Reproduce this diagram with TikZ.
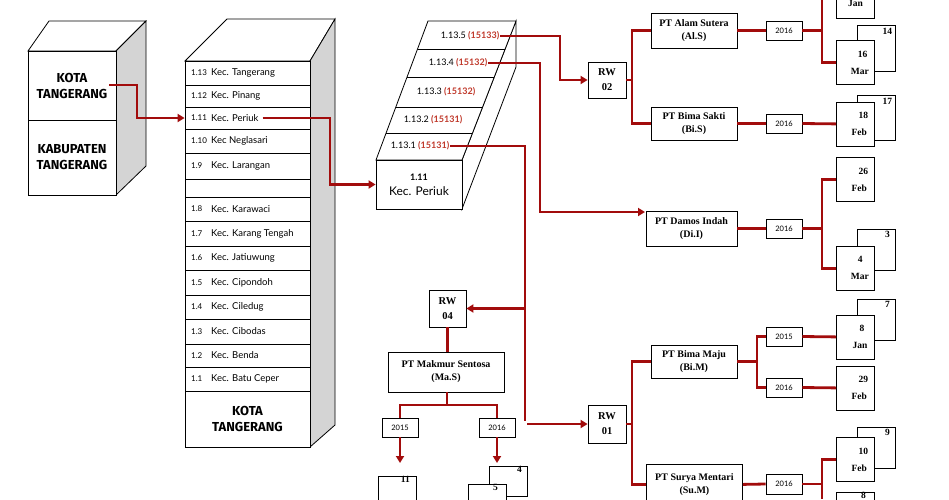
\documentclass[tikz,border=0pt]{standalone}
\usepackage{fontspec}
\setmainfont{Liberation Serif}
\newfontfamily\cond{Fira Sans}
\newfontfamily\lst{Lato}
\usetikzlibrary{arrows.meta}
\definecolor{rl}{HTML}{A20C0C}
\definecolor{sidegray}{HTML}{D4D4D4}
\definecolor{rt}{HTML}{C0392B}
\tikzset{
  box/.style={draw,fill=white,inner sep=0pt,align=center,line width=0.8pt},
  rline/.style={draw=rl,line width=2.8pt},
  rarr/.style={rline,-{Triangle[length=7pt,width=8pt]}},
  big/.style={font=\cond\bfseries\fontsize{13}{16}\selectfont},
  pt/.style={font=\bfseries\fontsize{10}{13}\selectfont},
  yr/.style={font=\lst\fontsize{7.5}{8}\selectfont},
  sl/.style={font=\lst\fontsize{9}{10}\selectfont,inner sep=1pt},
  dt/.style={font=\bfseries\fontsize{9.5}{10}\selectfont},
}
\newcommand\bx[7][]{\node[box,minimum width={#5-#3},minimum height={#6-#4},#1] (#2) at ({(#3+#5)/2},{(#4+#6)/2}) {#7};}
\newcommand\dbx[5]{\node[box,dt,minimum width=38,minimum height=44,anchor=north west,align=left] (#1) at (#2,#3) {\hspace*{16pt}#4\\[7pt]\hspace*{9pt}#5};}
\begin{document}
\begin{tikzpicture}[x=1pt,y=-1pt]
\useasboundingbox[fill=white] (0,0) rectangle (949,499);
% left cube
\filldraw[fill=white,line width=0.8pt] (28,51) -- (49,21) -- (146,21) -- (116,51) -- cycle;
\filldraw[fill=sidegray,line width=0.8pt] (116,51) -- (146,21) -- (146,166) -- (116,195) -- cycle;
\bx[big]{kota}{28}{51}{116}{120}{KOTA\\TANGERANG}
\bx[big]{kab}{28}{120}{116}{195}{KABUPATEN\\TANGERANG}
% big column
\filldraw[fill=white,line width=0.8pt] (185,61) -- (227,19) -- (335,19) -- (310,61) -- cycle;
\filldraw[fill=sidegray,line width=0.8pt] (310,61) -- (335,19) -- (335,425) -- (310,447) -- cycle;
\foreach \t/\b/\n/\l [count=\i] in {61/85/1.13/Kec. Tangerang,85/107/1.12/Kec. Pinang,107/129/1.11/Kec. Periuk,129/153/1.10/Kec Neglasari,153/179/1.9/Kec. Larangan,179/197//,197/221/1.8/Kec. Karawaci,221/246/1.7/Kec. Karang Tengah,246/270/1.6/Kec. Jatiuwung,270/295/1.5/Kec. Cipondoh,295/319/1.4/Kec. Ciledug,319/344/1.3/Kec. Cibodas,344/367/1.2/Kec. Benda,367/391/1.1/Kec. Batu Ceper}{
  \bx{r\i}{185}{\t}{310}{\b}{}
  \node[font=\lst\fontsize{8}{9}\selectfont,anchor=west,inner sep=0pt] (n\i) at (191,{(\t+\b)/2}) {\n};
  \node[font=\lst\fontsize{9.5}{10}\selectfont,anchor=west,inner sep=0pt] (k\i) at (211,{(\t+\b)/2}) {\l};
}
\bx[big]{kotab}{185}{391}{310}{447}{KOTA\\TANGERANG}
% Periuk stack
\filldraw[fill=white,line width=0.8pt] (516,21) -- (516,67) -- (462,209) -- (462,160) -- cycle;
\filldraw[fill=white,line width=0.8pt] (376,160) -- (428,21) -- (516,21) -- (462,160) -- cycle;
\foreach \y in {49,77,107,133}{
  \draw[line width=0.8pt] ({428-52*(\y-21)/139},\y) -- ({516-54*(\y-21)/139},\y);
}
\node[sl] (s5) at (470,36) {1.13.5 \textcolor{rt}{\textbf{(15133)}}};
\node[sl] (s4) at (458,63) {1.13.4 \textcolor{rt}{\textbf{(15132)}}};
\node[sl] (s3) at (446,92) {1.13.3 \textcolor{rt}{\textbf{(15132)}}};
\node[sl] (s2) at (433,120) {1.13.2 \textcolor{rt}{\textbf{(15131)}}};
\node[sl] (s1) at (420,146) {1.13.1 \textcolor{rt}{\textbf{(15131)}}};
\bx[font=\lst\fontsize{12}{15}\selectfont]{periuk}{376}{160}{462}{209}{\textbf{\small 1.11}\\Kec. Periuk}
% connectors left
\coordinate (ka) at (109,85);
\draw[rarr] (ka) -- (137,85) |- (r3.west);
\draw[rarr] (k3.east) ++(4,0) -- (330,118) |- (periuk.west);
% RW02 branch
\bx[font=\bfseries\fontsize{10.5}{15}\selectfont]{rw02}{588}{62}{626}{98}{RW\\02}
\draw[rarr] (s5.east) -| (560,80) -- (rw02.west);
\bx[pt]{alam}{651}{13}{737}{48}{PT Alam Sutera\\(Al.S)}
\bx[pt]{bsak}{651}{107}{737}{140}{PT Bima Sakti\\(Bi.S)}
\draw[rline] (rw02.east) -- (632,80);
\draw[rline] (alam.west) -| (632,80) |- (bsak.west);
\bx[yr]{ya}{766}{21}{802}{40}{2016}
\bx[yr]{yb}{766}{114}{802}{133}{2016}
\draw[rline] (alam.east) -- (ya.west);
\draw[rline] (bsak.east) -- (yb.west);
\node[box,minimum width=38,minimum height=30,anchor=south west,dt] (jan1) at (836,19) {Jan};
\node[box,minimum width=38,minimum height=46,anchor=north west,align=right,dt] (b14) at (857,25) {\hspace*{22pt}14\\[24pt]};
\dbx{m16}{836}{40}{16}{Mar}
\draw[rline] (ya.east) -- (822,30.5) coordinate (cA);
\draw[rline] (cA) -- (822,0);
\draw[rline] (cA) |- (m16.west);
\node[box,minimum width=38,minimum height=45,anchor=north west,align=right,dt] (b17) at (857,95) {\hspace*{22pt}17\\[24pt]};
\dbx{f18}{836}{101.5}{18}{Feb}
\draw[rline] (yb.east) -- (f18.west);
% Damos
\bx[pt]{damos}{646}{211}{737}{246}{PT Damos Indah\\(Di.I)}
\draw[rarr] (s4.east) -| (540,212) -- (645,212);
\bx[yr]{yc}{766}{219}{802}{238}{2016}
\draw[rline] (damos.east) -- (yc.west);
\dbx{f26}{836}{157}{26}{Feb}
\node[box,minimum width=38,minimum height=41,anchor=north west,align=right,dt] (b3) at (857,229) {\hspace*{22pt}3\\[22pt]};
\dbx{m4}{836}{246}{4}{Mar}
\draw[rline] (yc.east) -- (822,228.5) coordinate (cB);
\draw[rline] (cB) |- (f26.west);
\draw[rline] (cB) |- (m4.west);
% RW04
\bx[font=\bfseries\fontsize{10.5}{15}\selectfont]{rw04}{429}{290}{466}{327}{RW\\04}
\draw[rline] (s1.east) -| (525,421);
\draw[rarr] (525,308.5) -- (rw04.east);
\bx[pt]{mak}{388}{352}{504}{392}{PT Makmur Sentosa\\(Ma.S)}
\draw[rline] (rw04.south) -- (mak.north -| rw04.south);
\bx[yr]{yd}{382}{418}{418}{437}{2015}
\bx[yr]{ye}{479}{418}{515}{437}{2016}
\draw[rline] (447,392) -- (447,405) coordinate (cC);
\draw[rline] (yd.north) |- (cC) -| (ye.north);
\draw[rarr] (yd.south) -- (400,463);
\draw[rarr] (ye.south) -- (497,463);
\node[box,minimum width=38,minimum height=30,anchor=north west,align=right,dt] (b4) at (489,466) {\hspace*{22pt}4\\[14pt]};
\node[box,minimum width=38,minimum height=30,anchor=north west,align=left,dt] (d11) at (378,476) {\hspace*{16pt}11\\[14pt]};
\node[box,minimum width=38,minimum height=20,anchor=north west,align=left,dt] (d5) at (468,484) {\hspace*{16pt}5\\[8pt]};
% RW01
\bx[font=\bfseries\fontsize{10.5}{15}\selectfont]{rw01}{588}{405}{626}{443}{RW\\01}
\draw[rarr] (527,424) -- (rw01.west);
\bx[pt]{bmaju}{651}{345}{737}{378}{PT Bima Maju\\(Bi.M)}
\node[box,pt,minimum width=96,minimum height=40,anchor=north west] (surya) at (646,464) {PT Surya Mentari\\(Su.M)};
\draw[rline] (rw01.east) -- (632,424);
\draw[rline] (bmaju.west) -| (632,424) |- (surya.west);
\bx[yr]{yf}{766}{327}{802}{346}{2015}
\bx[yr]{yg}{766}{378}{802}{397}{2016}
\draw[rline] (bmaju.east) -- (757,361.5) coordinate (cD);
\draw[rline] (yf.west) -| (cD) |- (yg.west);
\node[box,minimum width=38,minimum height=41,anchor=north west,align=right,dt] (b7) at (857,299) {\hspace*{22pt}7\\[22pt]};
\dbx{j8}{836}{314.5}{8}{Jan}
\dbx{f29}{836}{365.5}{29}{Feb}
\draw[rline] (yf.east) -- (j8.west);
\draw[rline] (yg.east) -- (f29.west);
\bx[yr]{yh}{766}{474}{802}{494}{2016}
\draw[rline] (surya.east) -- (yh.west);
\node[box,minimum width=38,minimum height=41,anchor=north west,align=right,dt] (b9) at (857,427) {\hspace*{22pt}9\\[22pt]};
\dbx{f10}{836}{437}{10}{Feb}
\node[box,minimum width=38,minimum height=20,anchor=north west,align=left,dt] (d8) at (836,492) {\hspace*{16pt}8\\[8pt]};
\draw[rline] (yh.east) -- (822,484) coordinate (cE);
\draw[rline] (cE) |- (f10.west);
\draw[rline] (cE) -- (822,499);
\end{tikzpicture}
\end{document}
